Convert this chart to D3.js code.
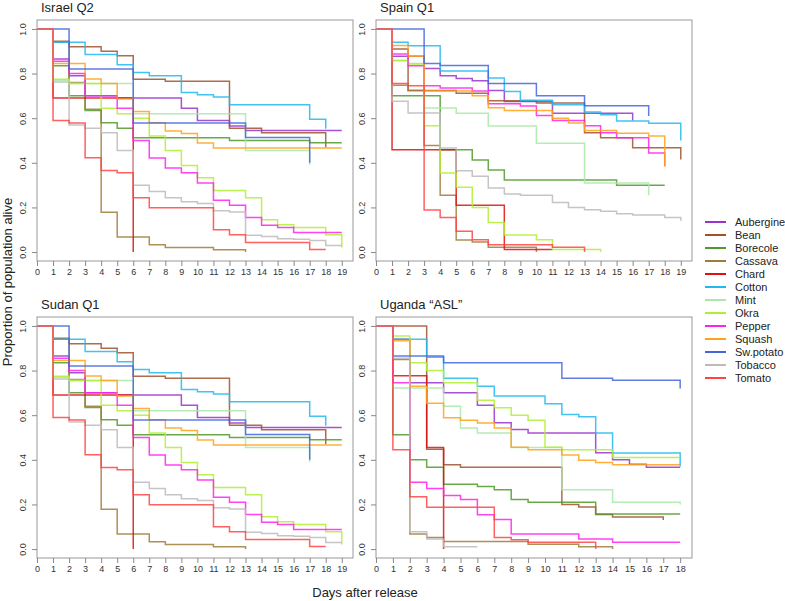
<!DOCTYPE html>
<html>
<head>
<meta charset="utf-8">
<script src="https://cdn.jsdelivr.net/npm/d3@7"></script>
<style>
  body { margin: 0; background: #fff; }
  svg { font-family: "Liberation Sans", Arial, sans-serif; }
</style>
</head>
<body>
<svg id="vis" width="785" height="601"></svg>
<script>
// species in legend order (also drawing order)
var species = ["Aubergine", "Bean", "Borecole", "Cassava", "Chard", "Cotton", "Mint",
               "Okra", "Pepper", "Squash", "Sw.potato", "Tobacco", "Tomato"];
var colours = ["#9933cc", "#a0522d", "#4f9a2a", "#a07c3a", "#dd1111", "#22b8ee", "#a8e8a8",
               "#b0ee33", "#ff22ee", "#ffa11a", "#4466dd", "#bbbbbb", "#ff4444"];

// survival steps: [day, proportion alive from that day], last pair = end of curve
var israelQ2 = [
  [[0,1],[1,0.865],[2,0.79],[3,0.70],[5,0.69],[9,0.645],[10,0.59],[12,0.565],[13,0.545],[19,0.545]],
  [[0,1],[1,0.945],[2,0.92],[4,0.90],[5,0.88],[6,0.775],[8,0.765],[12,0.555],[14,0.535],[18,0.47]],
  [[0,1],[1,0.835],[2,0.70],[3,0.635],[4,0.58],[5,0.555],[6,0.512],[12,0.50],[17,0.49],[19,0.49]],
  [[0,1],[1,0.94],[2,0.76],[3,0.64],[4,0.178],[5,0.067],[7,0.033],[8,0.02],[11,0.01],[13,0]],
  [[0,1],[1,0.69],[6,0]],
  [[0,1],[1,0.94],[3,0.885],[5,0.84],[6,0.805],[7,0.79],[9,0.715],[10,0.705],[11,0.695],[12,0.66],[17,0.595],[18,0.553]],
  [[0,1],[1,0.77],[2,0.755],[6,0.62],[13,0.455],[17,0.39]],
  [[0,1],[1,0.775],[2,0.755],[4,0.645],[5,0.62],[6,0.60],[7,0.52],[8,0.455],[9,0.388],[10,0.333],[11,0.276],[13,0.244],[14,0.145],[15,0.122],[16,0.11],[18,0.078],[19,0.02]],
  [[0,1],[1,0.855],[2,0.80],[3,0.70],[5,0.645],[6,0.50],[7,0.422],[8,0.377],[9,0.356],[10,0.31],[11,0.232],[12,0.21],[13,0.155],[14,0.12],[15,0.11],[16,0.088],[19,0.088]],
  [[0,1],[1,0.845],[3,0.776],[4,0.755],[5,0.686],[6,0.63],[7,0.58],[8,0.543],[9,0.531],[10,0.489],[11,0.466],[19,0.466]],
  [[0,1],[2,0.82],[6,0.578],[13,0.513],[17,0.40]],
  [[0,1],[1,0.762],[2,0.57],[3,0.555],[4,0.535],[5,0.455],[6,0.30],[7,0.272],[8,0.243],[9,0.225],[10,0.218],[11,0.185],[12,0.18],[13,0.075],[14,0.07],[15,0.06],[16,0.057],[17,0.052],[18,0.03],[19,0.03]],
  [[0,1],[1,0.59],[2,0.578],[3,0.423],[4,0.366],[5,0.355],[6,0.244],[7,0.199],[11,0.10],[12,0.078],[13,0.043],[17,0.012],[18,0.012]]
];

var spainQ1 = [
  [[0,1],[1,0.878],[3,0.823],[4,0.79],[5,0.778],[6,0.768],[7,0.724],[8,0.675],[11,0.622],[16,0.59]],
  [[0,1],[1,0.91],[2,0.724],[5,0.712],[7,0.678],[10,0.668],[13,0.535],[14,0.512],[16,0.467],[19,0.415]],
  [[0,1],[1,0.70],[4,0.458],[6,0.413],[7,0.368],[8,0.323],[15,0.30],[18,0.30]],
  [[0,1],[1,0.748],[2,0.724],[3,0.478],[4,0.255],[5,0.054],[6,0.045],[7,0.022],[10,0]],
  [[0,1],[1,0.458],[5,0.21],[8,0.012],[11,0.012]],
  [[0,1],[1,0.94],[2,0.925],[4,0.812],[7,0.78],[8,0.72],[9,0.68],[11,0.66],[13,0.628],[14,0.615],[15,0.587],[17,0.577],[19,0.50]],
  [[0,1],[1,0.86],[2,0.845],[3,0.646],[5,0.622],[7,0.565],[10,0.488],[13,0.31],[17,0.255]],
  [[0,1],[1,0.857],[2,0.843],[3,0.566],[4,0.354],[5,0.29],[6,0.20],[7,0.132],[8,0.077],[10,0.055],[11,0.012],[14,0]],
  [[0,1],[1,0.888],[2,0.835],[3,0.745],[4,0.735],[6,0.722],[7,0.665],[9,0.655],[10,0.612],[11,0.59],[13,0.566],[14,0.535],[15,0.512],[17,0.444],[18,0.385]],
  [[0,1],[1,0.926],[2,0.878],[3,0.722],[6,0.70],[7,0.647],[8,0.634],[11,0.60],[12,0.578],[13,0.545],[15,0.533],[17,0.52],[18,0.383]],
  [[0,1],[3,0.845],[4,0.836],[7,0.755],[10,0.70],[13,0.656],[17,0.61]],
  [[0,1],[1,0.676],[2,0.623],[4,0.466],[5,0.365],[6,0.34],[7,0.287],[8,0.26],[9,0.255],[11,0.222],[12,0.20],[13,0.19],[14,0.183],[15,0.172],[16,0.166],[18,0.155],[19,0.14]],
  [[0,1],[1,0.755],[2,0.745],[3,0.188],[4,0.155],[5,0.093],[6,0.055],[7,0.033],[11,0.022],[13,0]]
];

// Sudan Q1 reads the same as Israel Q2
var sudanQ1 = israelQ2;

var ugandaASL = [
  [[0,1],[1,0.94],[2,0.745],[4,0.70],[6,0.644],[7,0.566],[8,0.536],[9,0.52],[13,0.432],[14,0.40],[15,0.38],[16,0.367],[18,0.367]],
  [[0,1],[3,0.447],[4,0.378],[5,0.367],[11,0.20],[12,0.188],[13,0.155],[14,0.144],[17,0.13]],
  [[0,1],[1,0.512],[2,0.40],[3,0.367],[4,0.29],[6,0.28],[7,0.266],[8,0.222],[9,0.21],[13,0.157],[18,0.157]],
  [[0,1],[1,0.85],[2,0.067],[3,0.052],[4,0.034],[9,0.022],[12,0.01],[14,0]],
  [[0,1],[1,0.777],[3,0.455],[4,0]],
  [[0,1],[1,0.94],[3,0.86],[4,0.766],[6,0.73],[7,0.686],[10,0.651],[11,0.603],[12,0.593],[13,0.52],[14,0.43],[18,0.37]],
  [[0,1],[1,0.722],[4,0.64],[5,0.543],[6,0.52],[8,0.455],[11,0.266],[14,0.21],[18,0.20]],
  [[0,1],[1,0.955],[2,0.835],[3,0.80],[4,0.745],[6,0.667],[7,0.633],[8,0.60],[9,0.577],[10,0.456],[11,0.445],[14,0.41],[18,0.41]],
  [[0,1],[1,0.745],[2,0.30],[3,0.272],[4,0.24],[5,0.222],[6,0.154],[7,0.132],[8,0.067],[12,0.045],[14,0.031],[18,0.031]],
  [[0,1],[1,0.934],[2,0.73],[3,0.654],[4,0.588],[5,0.577],[6,0.565],[7,0.543],[8,0.456],[9,0.445],[11,0.422],[12,0.398],[13,0.388],[14,0.378],[18,0.378]],
  [[0,1],[1,0.865],[4,0.835],[11,0.766],[14,0.756],[18,0.72]],
  [[0,1],[1,0.855],[2,0.078],[3,0.045],[4,0.01],[6,0.01]],
  [[0,1],[1,0.445],[2,0.235],[3,0.187],[7,0.052],[8,0.042],[9,0.031],[13,0]]
];

var yTicks = [0, 0.2, 0.4, 0.6, 0.8, 1.0];

var panels = [
  { title: "Israel Q2",      data: israelQ2,  maxDay: 19, left: 37,  top: 20 },
  { title: "Spain Q1",       data: spainQ1,   maxDay: 19, left: 376, top: 20 },
  { title: "Sudan Q1",       data: sudanQ1,   maxDay: 19, left: 37,  top: 317 },
  { title: "Uganda \u201CASL\u201D", data: ugandaASL, maxDay: 18, left: 376, top: 317 }
];

var PANEL_W = 316;
var PANEL_H = 241;

var _vis = d3.select("#vis");

panels.forEach(function(p) {
  var x = d3.scaleLinear().domain([0, p.maxDay + 0.7]).range([p.left, p.left + PANEL_W]);
  var y = d3.scaleLinear().domain([-0.04, 1.04]).range([p.top + PANEL_H, p.top]);
  var g = _vis.append("g");

  // curves
  var line = d3.line()
    .x(function(d) { return x(d[0]); })
    .y(function(d) { return y(d[1]); })
    .curve(d3.curveStepAfter);

  g.selectAll("path.curve")
    .data(p.data)
    .enter()
    .append("path")
    .attr("class", "curve")
    .attr("d", line)
    .attr("fill", "none")
    .attr("stroke", function(d, i) { return colours[i]; })
    .attr("stroke-width", 1.5)
    .attr("stroke-opacity", 0.85);

  // frame
  g.append("rect")
    .attr("x", p.left).attr("y", p.top)
    .attr("width", PANEL_W).attr("height", PANEL_H)
    .attr("fill", "none").attr("stroke", "#999").attr("stroke-width", 1);

  // x axis
  var xAxis = d3.axisBottom(x).tickValues(d3.range(0, p.maxDay + 1)).tickSize(5).tickPadding(3);
  var xg = g.append("g").attr("transform", "translate(0," + (p.top + PANEL_H) + ")").call(xAxis);
  xg.select(".domain").remove();
  xg.selectAll("line").attr("stroke", "#888");
  xg.selectAll("text").attr("font-size", 9).attr("fill", "#333")
    .attr("font-family", "Liberation Sans, Arial, sans-serif");

  // y axis, R style rotated labels
  var yAxis = d3.axisLeft(y).tickValues(yTicks).tickSize(5).tickFormat(d3.format(".1f"));
  var yg = g.append("g").attr("transform", "translate(" + p.left + ",0)").call(yAxis);
  yg.select(".domain").remove();
  yg.selectAll("line").attr("stroke", "#888");
  yg.selectAll("text")
    .attr("font-size", 9).attr("fill", "#333")
    .attr("font-family", "Liberation Sans, Arial, sans-serif")
    .attr("x", 0).attr("dy", null)
    .attr("text-anchor", "middle")
    .attr("transform", "translate(-14,0) rotate(-90)")
    .attr("dominant-baseline", "central");

  // panel title
  g.append("text")
    .attr("x", p.left + 4)
    .attr("y", p.top - 8)
    .attr("font-size", 13)
    .attr("fill", "#222")
    .text(p.title);
});

// axis titles
_vis.append("text")
  .attr("transform", "translate(12,282) rotate(-90)")
  .attr("text-anchor", "middle")
  .attr("font-size", 13)
  .attr("fill", "#222")
  .text("Proportion of population alive");

_vis.append("text")
  .attr("x", 365).attr("y", 597)
  .attr("text-anchor", "middle")
  .attr("font-size", 13)
  .attr("fill", "#222")
  .text("Days after release");

// legend
var legend = _vis.selectAll("g.legend")
  .data(species)
  .enter()
  .append("g")
  .attr("class", "legend")
  .attr("transform", function(d, i) { return "translate(705," + (222 + i * 13) + ")"; });

legend.append("line")
  .attr("x1", 0).attr("x2", 21).attr("y1", 0).attr("y2", 0)
  .attr("stroke", function(d, i) { return colours[i]; })
  .attr("stroke-width", 2);

legend.append("text")
  .attr("x", 30).attr("y", 0)
  .attr("dominant-baseline", "central")
  .attr("font-size", 11)
  .attr("fill", "#222")
  .text(function(d) { return d; });
</script>
</body>
</html>
